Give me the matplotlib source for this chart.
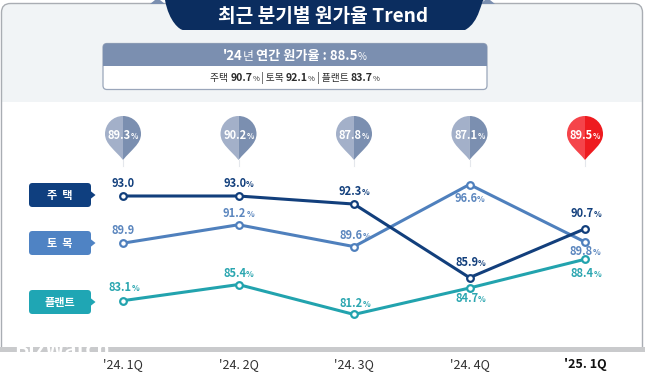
import matplotlib
matplotlib.use("Agg")
import matplotlib.pyplot as plt
from matplotlib.patches import FancyBboxPatch, PathPatch, Polygon, Rectangle
from matplotlib.path import Path

plt.rcParams['font.family'] = ['Noto Sans CJK KR', 'DejaVu Sans']

# ---- data ----
quarters = ["'24. 1Q", "'24. 2Q", "'24. 3Q", "'24. 4Q", "'25. 1Q"]
total_rate = [89.3, 90.2, 87.8, 87.1, 89.5]
housing_labels = [93.0, 93.0, 92.3, 85.9, 90.7]
civil_labels = [89.9, 91.2, 89.6, 96.6, 89.8]
plant_labels = [83.1, 85.4, 81.2, 84.7, 88.4]
# the source infographic does not plot to one common scale: drawn heights
housing_drawn = [93.0, 93.0, 92.3, 85.9, 90.15]
civil_drawn = [88.9, 90.5, 88.6, 94.0, 89.0]
plant_drawn = [83.9, 85.3, 82.7, 85.0, 87.5]
housing_has_pct = [False, True, True, True, True]
civil_has_pct = [False, True, True, True, True]
plant_has_pct = [True, True, True, True, True]
# label offsets from their point (pixels, right / up)
housing_off = [(0, 12), (0, 12), (0, 13), (1, 15), (1, 15)]
civil_off = [(0, 13), (0, 11), (1, 11), (0, -14), (0, -10)]
plant_off = [(1, 13), (0, 11), (1, 11), (1, -11), (1, -14)]

W, H = 645, 374
fig = plt.figure(figsize=(W / 100, H / 100), dpi=100, facecolor='white')

# ---- pixel-space layer for the infographic furniture ----
bg = fig.add_axes([0, 0, 1, 1], zorder=0)
bg.set_xlim(0, W)
bg.set_ylim(H, 0)
bg.axis('off')

NAVY = '#0B2D5F'
HEAD = '#7B8FB0'
GREY = '#F1F4F6'
BORDER = '#A9ADB3'

# outer panel
bg.add_patch(FancyBboxPatch((2, 4), 640, 150, boxstyle='round,pad=0,rounding_size=9',
                            fc=GREY, ec='none', zorder=1.1))
bg.add_patch(Rectangle((2, 102), 640, 60, fc='white', ec='none', zorder=1.2))
bg.add_patch(FancyBboxPatch((1.5, 3.5), 641, 400, boxstyle='round,pad=0,rounding_size=9',
                            fc='none', ec=BORDER, lw=1.0, zorder=1.3))
bg.add_patch(Rectangle((0, 351), W, 30, fc='white', ec='none', zorder=1.5))
bg.add_patch(Rectangle((0, 347), W, 4.5, fc='#C9CACC', ec='none', zorder=1.6))

# title banner
for sx in (155, 490):
    bg.add_patch(Polygon([(sx - 5, 4), (sx, 0), (sx + 5, 0), (sx + 10, 4)] if sx < 300 else
                         [(sx - 5, 0), (sx, 0), (sx + 5, 4), (sx - 10, 4)],
                         fc='#7B8FB0', ec='none', zorder=1.7))
banner = Path([(160, 0), (484, 0), (481, 0), (480, 22), (465, 30), (462, 30), (183, 30), (180, 30),
               (169, 22), (165, 0), (160, 0)],
              [Path.MOVETO, Path.LINETO, Path.CURVE4, Path.CURVE4, Path.CURVE4, Path.LINETO, Path.LINETO,
               Path.CURVE4, Path.CURVE4, Path.CURVE4, Path.CLOSEPOLY])
bg.add_patch(PathPatch(banner, fc=NAVY, ec='none', zorder=2))

# summary box
bg.add_patch(FancyBboxPatch((103, 43.5), 384, 46, boxstyle='round,pad=0,rounding_size=4',
                            fc='white', ec='#9AA6BA', lw=0.9, zorder=2))
header = FancyBboxPatch((103, 43.5), 384, 46, boxstyle='round,pad=0,rounding_size=4', fc=HEAD, ec='none', zorder=2.1)
bg.add_patch(header)
header.set_clip_path(Rectangle((100, 40), 390, 26, transform=bg.transData))


# ---- text helper: runs of mixed size / weight centred on a pixel position ----
renderer = fig.canvas.get_renderer()


def runs(cx, cy, parts):
    items = []
    for s, size, weight, color in parts:
        t = fig.text(0, 0, s, fontsize=size, fontweight=weight, color=color, transform=bg.transData,
                     va='baseline', ha='left', zorder=8)
        items.append(t)
    widths = [t.get_window_extent(renderer).width for t in items]
    x = cx - sum(widths) / 2
    for t, w in zip(items, widths):
        t.set_position((x, cy))
        x += w


runs(323, 21.5, [("최근 분기별 원가율 Trend", 13.8, 'bold', 'white')])
runs(295, 59.5, [("'24", 9.5, 'bold', 'white'), ("년 ", 8.5, 'regular', 'white'),
                 ("연간 원가율 : 88.5", 9.5, 'bold', 'white'), ("%", 7, 'regular', 'white')])
T = '#2B2B2B'
runs(295, 81, [("주택 ", 7, 'regular', T), ("90.7", 7.6, 'bold', T), ("% ", 5.5, 'regular', T), ("| 토목 ", 7, 'regular', T),
               ("92.1", 7.6, 'bold', T), ("% ", 5.5, 'regular', T), ("| 플랜트 ", 7, 'regular', T),
               ("83.7", 7.6, 'bold', T), ("%", 5.5, 'regular', T)])

# ---- series tags ----
tag_names = ["주  택", "토  목", "플랜트"]
tag_colors = ['#0F3F7F', '#4F83C4', '#1FA6B4']
tag_tops = [183, 231, 290]
for name, col, top in zip(tag_names, tag_colors, tag_tops):
    bg.add_patch(FancyBboxPatch((29, top), 62, 24, boxstyle='round,pad=0,rounding_size=3.5', fc=col, ec='none', zorder=3))
    bg.add_patch(Polygon([(90.5, top + 8), (95.5, top + 12), (90.5, top + 16)], fc=col, ec='none', zorder=3))
    runs(60, top + 16, [(name, 8, 'bold', 'white')])

# ---- data layer ----
X0, DX = 123, 115.5
PX_PER = 11.5
top_px, bot_px = 120, 351
ax = fig.add_axes([X0 / W, 1 - bot_px / H, 4 * DX / W, (bot_px - top_px) / H], zorder=2)
ax.patch.set_alpha(0)
ax.set_xlim(0, 4)
ax.set_ylim(93 - (bot_px - 196) / PX_PER, 93 + (196 - top_px) / PX_PER)
for s in ax.spines.values():
    s.set_visible(False)
ax.set_yticks([])
ax.set_xticks(range(5))
ax.set_xticklabels(quarters, fontsize=9, color='#303030')
ax.tick_params(axis='x', length=0, pad=5)
ax.get_xticklabels()[4].set_fontweight('bold')
ax.get_xticklabels()[4].set_color('#111111')

series = [
    (housing_drawn, housing_labels, housing_has_pct, housing_off, '#123F7C', '#123F7C', 4),
    (civil_drawn, civil_labels, civil_has_pct, civil_off, '#4F80BD', '#5B86BE', 2),
    (plant_drawn, plant_labels, plant_has_pct, plant_off, '#22A3AE', '#2BA6B0', 3),
]
xs = list(range(5))
for drawn, labels, has_pct, offs, col, tcol, z in series:
    ax.plot(xs, drawn, color=col, lw=2.2, solid_capstyle='round', marker='o', ms=4.8,
            mfc='white', mec=col, mew=1.6, clip_on=False, zorder=z)

for drawn, labels, has_pct, offs, col, tcol, z in series:
    for i in xs:
        px, py = ax.transData.transform((i, drawn[i]))
        parts = [(f"{labels[i]:.1f}", 8, 'bold', tcol)]
        if has_pct[i]:
            parts.append(("%", 5.8, 'bold', tcol))
        # display y runs upward, pixel layer runs downward
        runs(px + offs[i][0], (H - py) - offs[i][1] + 3.5, parts)

# ---- quarter pins ----
PIN_L = ['#A3B0C9', '#A3B0C9', '#A3B0C9', '#A3B0C9', '#F5444A']
PIN_R = ['#7B8FB0', '#7B8FB0', '#7B8FB0', '#7B8FB0', '#EE1B1F']
TOP, MID, TIP, HW = 116, 134, 160, 18
for i, v in enumerate(total_rate):
    cx = X0 + DX * i
    bg.plot([cx, cx], [TIP, 166], color='#E4E7EC', lw=0.8, zorder=2)
    for sgn, c in ((-1, PIN_L[i]), (1, PIN_R[i])):
        p = Path([(cx, TOP), (cx + sgn * 10, TOP), (cx + sgn * HW, 124), (cx + sgn * HW, MID),
                  (cx + sgn * HW, 144), (cx + sgn * 8, 150), (cx, TIP), (cx, TOP)],
                 [Path.MOVETO, Path.CURVE4, Path.CURVE4, Path.CURVE4,
                  Path.CURVE4, Path.CURVE4, Path.CURVE4, Path.CLOSEPOLY])
        bg.add_patch(PathPatch(p, fc=c, ec='none', zorder=3))
    runs(cx, 138.5, [(f"{v:.1f}", 8, 'bold', 'white'), ("%", 5.5, 'bold', 'white')])

# watermark: white on white, only its letters crossing the grey band show
bg.text(62, 356, "BizWatch", fontsize=15, fontweight='bold', color='white', ha='center', va='baseline', zorder=1.8)

fig.savefig('out.png', dpi=100)
